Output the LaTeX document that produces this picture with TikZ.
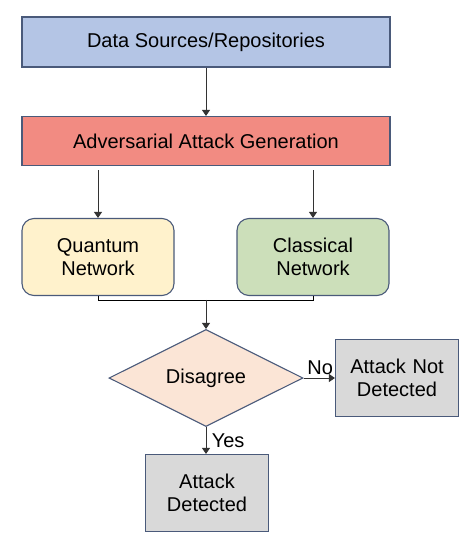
\documentclass[tikz,border=0pt]{standalone}
\usepackage{fontspec}
\setmainfont{Liberation Sans}
\usetikzlibrary{shapes.geometric, arrows.meta, calc}
\definecolor{edgeblue}{HTML}{4A5A7A}
\definecolor{srcblue}{HTML}{B4C5E5}
\definecolor{atkred}{HTML}{F28B82}
\definecolor{qyellow}{HTML}{FFF2CC}
\definecolor{cgreen}{HTML}{CCDFBA}
\definecolor{dpeach}{HTML}{FBE5D6}
\definecolor{outgray}{HTML}{D9D9D9}
\tikzstyle{widebox} = [rectangle, minimum width=368pt, minimum height=49pt, text centered, draw=edgeblue, line width=1.1pt]
\tikzstyle{network} = [rectangle, rounded corners=12pt, minimum width=152pt, minimum height=77pt, text centered, text width=140pt, draw=edgeblue, line width=1.1pt]
\tikzstyle{decision} = [diamond, aspect=2, minimum width=194pt, minimum height=97pt, inner sep=0pt, text centered, draw=edgeblue, line width=1.1pt, fill=dpeach]
\tikzstyle{outcome} = [rectangle, minimum width=123pt, minimum height=77pt, text centered, text width=115pt, draw=edgeblue, line width=1.1pt, fill=outgray]
\tikzstyle{arrow} = [line width=0.9pt, draw=black!80, ->, >={Stealth[length=6pt, width=8pt, inset=0pt]}]

\begin{document}
\begin{tikzpicture}[node distance=99pt, font=\fontsize{20}{23}\selectfont]
\useasboundingbox (0,0) rectangle (474pt,-544pt);
\node (sources) [widebox, fill=srcblue, minimum height=50pt] at (206pt,-42pt) {Data Sources/Repositories};

\node (attack) [widebox, fill=atkred, below of=sources] {Adversarial Attack Generation};

\node (quantum) [network, fill=qyellow, below of=attack, xshift=-108pt, yshift=-17pt] {Quantum\\Network};
\node (classical) [network, fill=cgreen, right of=quantum, xshift=116pt] {Classical\\Network};

\node (disagree) [decision, below of=attack, yshift=-138pt] {Disagree};

\node (notdet) [outcome, right of=disagree, xshift=92pt] {Attack Not\\Detected};
\node (det) [outcome, below of=disagree, yshift=-16pt, xshift=1pt] {Attack\\Detected};

\coordinate (join) at ($(disagree.north) + (0, 29pt)$);

\draw [arrow] (sources) -- (attack);
\draw [arrow] (attack.south -| quantum) ++(0,-4pt) -- (quantum);
\draw [arrow] (attack.south -| classical) ++(0,-4pt) -- (classical);

\draw [line width=0.9pt] (quantum.south) -- (quantum.south |- join) -- (classical.south |- join) -- (classical.south);
\draw [arrow] (join) -- (disagree);

\draw [arrow] (disagree) -- node[above, xshift=1pt] {No} (notdet);
\draw [arrow] (disagree.south) -- node[right, xshift=2pt] {Yes} (disagree.south |- det.north);

\end{tikzpicture}
\end{document}
